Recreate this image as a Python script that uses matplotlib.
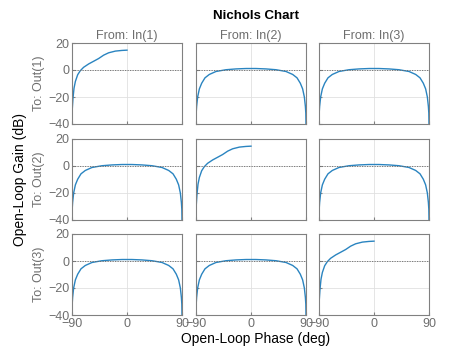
import matplotlib
matplotlib.use("Agg")
import matplotlib.pyplot as plt

plt.rcParams["font.family"] = ["Liberation Sans", "DejaVu Sans"]

# Diagonal (In(i) -> Out(i)) response
diag_phase = [-90, -89.8, -89.5, -88.4, -86.7, -84.5, -80.7, -76.4, -71, -62.7,
              -54.5, -46.4, -38.2, -30, -19, -8.2, 0]
diag_gain = [-40, -33, -28.5, -21, -13.5, -8.5, -3.5, -0.5, 2, 4.5,
             6.5, 8.5, 11, 12.75, 14, 14.5, 14.7]

# Off-diagonal response
off_phase = [-90, -89.7, -89, -87.3, -84.5, -80.7, -75.3, -68.2, -57.3, -41, -24.5, -8, 0,
             8, 24.5, 41, 57.3, 68.2, 75.3, 80.7, 84.5, 87.3, 89, 89.7, 90]
off_gain = [-40, -32, -27, -20, -14, -9.8, -5.8, -3.3, -1.1, 0.2, 0.8, 1.1, 1.1,
            1.1, 0.8, 0.2, -1.1, -3.3, -5.8, -9.8, -14, -20, -27, -32, -40]

col_titles = ["From: In(1)", "From: In(2)", "From: In(3)"]
row_titles = ["To: Out(1)", "To: Out(2)", "To: Out(3)"]
xticks = [-90, 0, 90]
yticks = [-40, -20, 0, 20]

W, H = 474, 355
fig = plt.figure(figsize=(W / 100, H / 100), dpi=100)

lefts = [72, 196, 319]
tops = [43, 139, 234]
aw, ah = 110, 81
gray = "#808080"
txtgray = "#6e6e6e"
blue = "#2a84c0"

for r in range(3):
    for c in range(3):
        ax = fig.add_axes([lefts[c] / W, 1 - (tops[r] + ah) / H, aw / W, ah / H])
        if r == c:
            ax.plot(diag_phase, diag_gain, color=blue, lw=1.0)
        else:
            ax.plot(off_phase, off_gain, color=blue, lw=1.0)
        ax.axhline(0, color="#6a6a6a", lw=0.6, ls=(0, (1.5, 1.5)))
        ax.set_xlim(-90, 90)
        ax.set_ylim(-40, 20)
        ax.set_xticks(xticks)
        ax.set_yticks(yticks)
        ax.grid(True, color="#e0e0e0", lw=0.6)
        ax.set_axisbelow(True)
        for s in ax.spines.values():
            s.set_color(gray)
            s.set_linewidth(0.8)
        ax.tick_params(direction="in", length=2, color=gray, labelcolor=txtgray,
                       labelsize=9, pad=2)
        if r < 2:
            ax.tick_params(labelbottom=False)
        if c > 0:
            ax.tick_params(labelleft=False)
        if r == 0:
            ax.set_title(col_titles[c], fontsize=9, color=txtgray, pad=3)
        if c == 0:
            ax.set_ylabel(row_titles[r], fontsize=9, color=txtgray, labelpad=2)

fig.text(256 / W, 1 - 16 / H, "Nichols Chart", ha="center", va="center",
         fontsize=9.5, fontweight="bold")
fig.text(20 / W, 1 - 180 / H, "Open-Loop Gain (dB)", ha="center", va="center",
         rotation=90, fontsize=10)
fig.text(256 / W, 1 - 339 / H, "Open-Loop Phase (deg)", ha="center", va="center",
         fontsize=10)

fig.savefig("out.png", dpi=100)
